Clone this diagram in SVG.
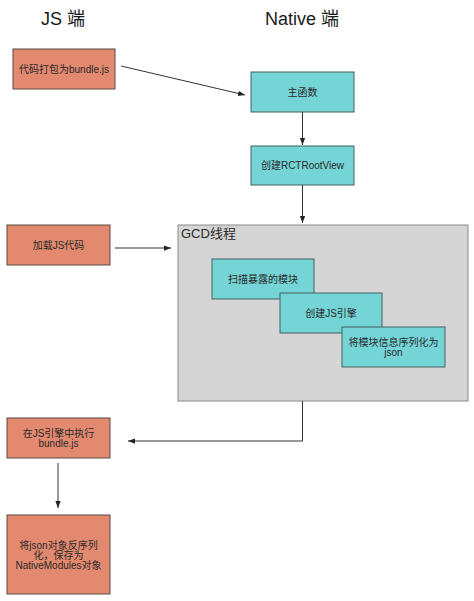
<svg xmlns="http://www.w3.org/2000/svg" width="474" height="601" viewBox="0 0 474 601">
<defs>
<style>
.js rect{fill:#E2896F;stroke:#5a4a44;stroke-width:1}
.nt rect{fill:#74D4D6;stroke:#45605f;stroke-width:1}
text{font-family:"Liberation Sans","Noto Sans CJK SC",sans-serif;fill:#2a2a2a}
.lbl{font-size:10px;text-anchor:middle}
.title{font-size:18px;text-anchor:middle;fill:#1a1a1a}
.conn line,.conn polyline{stroke:#333;stroke-width:1;fill:none;marker-end:url(#ah)}
</style>
<marker id="ah" viewBox="0 0 8 8" refX="8" refY="4" markerWidth="7" markerHeight="7" orient="auto" markerUnits="userSpaceOnUse">
<path d="M0,1 L8,4 L0,7 Z" fill="#222"/>
</marker>
</defs>
<rect width="474" height="601" fill="#fff"/>
<text class="title" x="63" y="25">JS 端</text>
<text class="title" x="302" y="25">Native 端</text>

<g id="gcd">
<rect x="178" y="225" width="290" height="176" fill="#D5D5D5" stroke="#8a8a8a" stroke-width="1"/>
<text x="181" y="238" font-size="13">GCD线程</text>
</g>

<g id="n1" class="js"><rect x="13" y="49" width="102" height="40"/><text class="lbl" x="64" y="73">代码打包为bundle.js</text></g>
<g id="n2" class="nt"><rect x="251" y="72" width="103" height="40"/><text class="lbl" x="302.5" y="96">主函数</text></g>
<g id="n3" class="nt"><rect x="251" y="146" width="103" height="39"/><text class="lbl" x="302.5" y="169">创建RCTRootView</text></g>
<g id="n4" class="js"><rect x="7" y="225" width="103" height="40"/><text class="lbl" x="58.5" y="249">加载JS代码</text></g>
<g id="n5" class="nt"><rect x="212" y="259" width="102" height="40"/><text class="lbl" x="263" y="283">扫描暴露的模块</text></g>
<g id="n6" class="nt"><rect x="280" y="293" width="102" height="40"/><text class="lbl" x="331" y="317">创建JS引擎</text></g>
<g id="n7" class="nt"><rect x="342" y="327" width="103" height="40"/><text class="lbl" x="393.5" y="346">将模块信息序列化为</text><text class="lbl" x="393.5" y="356">json</text></g>
<g id="n8" class="js"><rect x="7" y="418" width="103" height="40"/><text class="lbl" x="58.5" y="437">在JS引擎中执行</text><text class="lbl" x="58.5" y="447">bundle.js</text></g>
<g id="n9" class="js"><rect x="7" y="515" width="103" height="79"/><text class="lbl" x="58.5" y="549">将json对象反序列</text><text class="lbl" x="58.5" y="559">化，保存为</text><text class="lbl" x="58.5" y="569">NativeModules对象</text></g>

<g id="connectors" class="conn">
<line x1="121" y1="66" x2="245" y2="95"/>
<line x1="302.5" y1="112" x2="302.5" y2="145"/>
<line x1="302.5" y1="185" x2="302.5" y2="223"/>
<line x1="115" y1="248" x2="171" y2="248"/>
<polyline points="302.5,401 302.5,441 128,441"/>
<line x1="58" y1="463" x2="58" y2="508"/>
</g>
</svg>
